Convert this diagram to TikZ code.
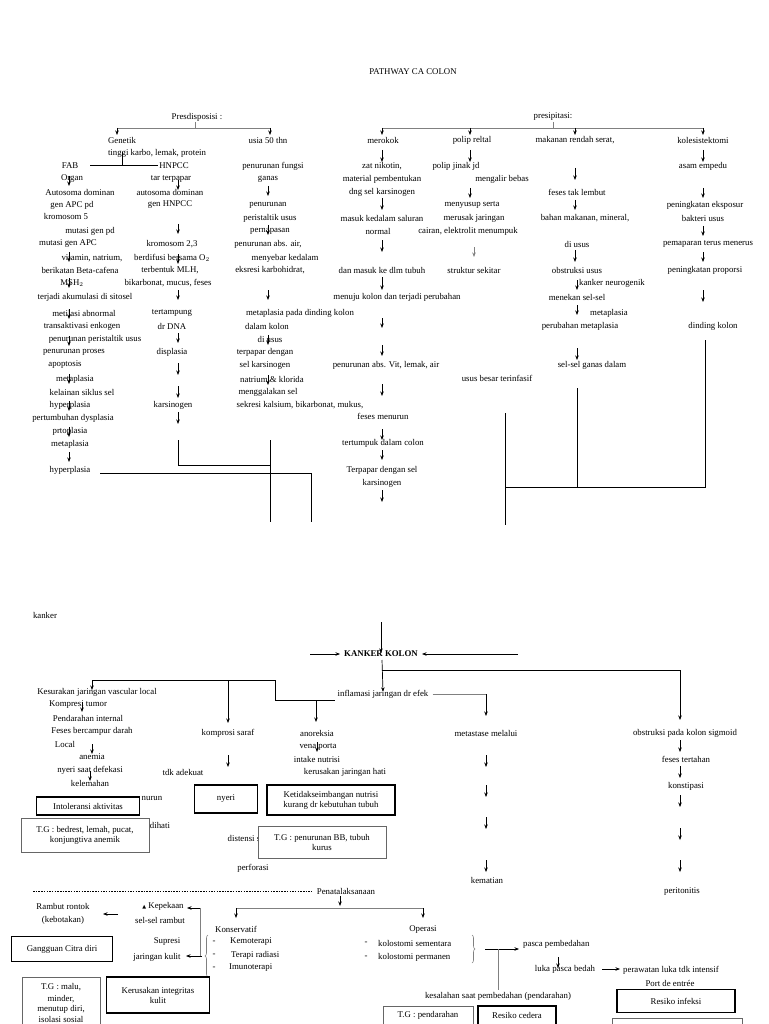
\documentclass[tikz,border=0pt]{standalone}
\usepackage{fontspec}
\setmainfont{Liberation Serif}
\newfontfamily\djv{DejaVu Sans}
\usetikzlibrary{arrows.meta,decorations.pathreplacing}
\tikzset{
  t/.style={inner sep=0pt,font=\fontsize{8.8}{10}\selectfont,align=center},
  a/.style={-{Stealth[length=4.5pt,width=3.5pt]},line width=0.7pt},
  ln/.style={line width=0.6pt},
  gl/.style={line width=0.6pt,draw=gray},
  bx/.style={draw,line width=1.6pt,fill=white},
  tb/.style={draw=gray!80!black,line width=0.8pt,fill=white}
}
\newcommand\T[3]{\node[t] at (#1,#2) {#3};}
\newcommand\dn[3]{\draw[a] (#1,#2)--(#1,#3);}
\begin{document}
\begin{tikzpicture}[x=1pt,y=-1pt]
\useasboundingbox (0,0) rectangle (768,1024);
\node[t] (title) at (413,72) {PATHWAY CA COLON};
% Predisposisi
\node[t] (pre) at (197,117) {Presdisposisi :};
\draw[gl] (195,122)--(195,128); \draw[gl] (117,128)--(270,128);
\dn{117}{128}{135} \dn{270}{128}{135}
\T{122}{140}{Genetik} \T{157}{153}{tinggi karbo, lemak, protein} \T{268}{140}{usia 50 thn}
\draw[ln] (90,165)--(158,165); \draw[ln] (122,152)--(122,165);
\T{70}{166}{FAB} \T{174}{166}{HNPCC}
% left column
\T{72}{179}{Organ} \T{80}{192}{Autosoma dominan} \T{72}{205}{gen APC pd} \T{66}{216}{kromosom 5}
\T{90}{231}{mutasi gen pd} \T{68}{244}{mutasi gen APC} \T{92}{258}{vitamin, natrium,} \T{80}{270}{berikatan Beta-cafena}
\T{72}{283}{MSH$_2$} \T{85}{297}{terjadi akumulasi di sitosel} \T{84}{313}{metilasi abnormal} \T{82}{326}{transaktivasi enkogen}
\T{95}{339}{penurunan peristaltik usus} \T{74}{352}{penurunan proses} \T{65}{365}{apoptosis} \T{75}{379}{metaplasia}
\T{82}{392}{kelainan siklus sel} \T{70}{405}{hyperplasia} \T{73}{418}{pertumbuhan dysplasia} \T{70}{431}{prtoplasia} \T{70}{444}{metaplasia}
\T{70}{470}{hyperplasia}
\dn{69}{176}{186} \dn{69}{252}{262} \dn{69}{278}{288} \dn{69}{309}{319} \dn{69}{336}{346} \dn{69}{374}{384} \dn{69}{401}{411} \dn{69}{427}{437} \dn{69}{452}{462}
% middle column
\T{171}{179}{tar terpapar} \T{170}{192}{autosoma dominan} \T{170}{205}{gen HNPCC} \dn{178}{224}{234}
\T{172}{244}{kromosom 2,3} \T{172}{258}{berdifusi bersama O$_2$} \T{170}{270}{terbentuk MLH,} \T{168}{283}{bikarbonat, mucus, feses}
\dn{178}{180}{190} \dn{178}{254}{264} \dn{178}{290}{300}
\T{172}{313}{tertampung} \T{172}{326}{dr DNA} \dn{178}{333}{343} \T{172}{352}{displasia} \dn{178}{363}{375} \dn{178}{386}{398}
\T{173}{405}{karsinogen} \dn{178}{412}{424}
% third column
\T{273}{166}{penurunan fungsi} \T{268}{179}{ganas} \dn{268}{186}{196} \T{268}{205}{penurunan} \T{270}{218}{peristaltik usus}
\T{270}{231}{pernapasan} \T{268}{244}{penurunan abs. air,} \T{285}{258}{menyebar kedalam} \T{270}{270}{eksresi karbohidrat,}
\dn{268}{225}{235} \dn{268}{290}{300}
\T{300}{313}{metaplasia pada dinding kolon} \T{267}{326}{dalam kolon} \T{270}{339}{di usus} \dn{268}{335}{345}
\T{265}{352}{terpapar dengan} \T{265}{365}{sel karsinogen} \T{272}{379}{natrium \& klorida} \dn{268}{375}{385} \T{268}{392}{menggalakan sel}
\T{300}{405}{sekresi kalsium, bikarbonat, mukus,}
\draw[ln] (178,440)--(178,465)--(270,465); \draw[ln] (270,440)--(270,522);
\draw[ln] (100,473)--(311,473)--(311,522);
% presipitasi
\node[t] (prs) at (553,117) {presipitasi:};
\draw[gl] (553,122)--(553,128); \draw[gl] (382,128)--(703,128);
\dn{382}{128}{135} \dn{470}{128}{135} \dn{575}{128}{135} \dn{703}{128}{135}
\T{383}{140}{merokok} \T{472}{140}{polip reltal} \T{575}{140}{makanan rendah serat,} \T{703}{140}{kolesistektomi}
\dn{382}{150}{162} \T{382}{166}{zat nikotin,} \T{382}{179}{material pembentukan} \T{382}{192}{dng sel karsinogen}
\dn{382}{198}{210} \T{382}{218}{masuk kedalam saluran} \T{378}{231}{normal} \dn{382}{240}{252}
\T{382}{270}{dan masuk ke dlm tubuh} \dn{382}{277}{290} \T{397}{297}{menuju kolon dan terjadi perubahan}
\dn{382}{318}{328} \dn{382}{345}{356} \T{386}{365}{penurunan abs. Vit, lemak, air} \dn{382}{384}{396}
\T{383}{416}{feses menurun} \dn{382}{429}{440} \T{383}{443}{tertumpuk dalam colon} \dn{382}{450}{460}
\T{382}{470}{Terpapar dengan sel} \T{382}{483}{karsinogen} \dn{382}{490}{502}
\dn{470}{150}{162} \T{456}{166}{polip jinak jd} \T{502}{179}{mengalir bebas} \dn{470}{188}{198}
\T{472}{205}{menyusup serta} \T{474}{218}{merusak jaringan} \T{468}{231}{cairan, elektrolit menumpuk}
\draw[a,draw=gray] (474,247)--(474,257); \T{474}{270}{struktur sekitar}
\dn{575}{168}{180} \T{577}{192}{feses tak lembut} \dn{575}{200}{210} \T{585}{218}{bahan makanan, mineral,}
\T{577}{244}{di usus} \dn{575}{250}{262} \T{577}{270}{obstruksi usus} \dn{577}{280}{290} \T{612}{283}{kanker neurogenik}
\T{577}{297}{menekan sel-sel} \dn{577}{305}{315} \T{609}{313}{metaplasia} \T{580}{326}{perubahan metaplasia}
\dn{577}{348}{360} \T{592}{365}{sel-sel ganas dalam} \T{497}{378}{usus besar terinfasif}
\dn{703}{150}{162} \T{703}{166}{asam empedu} \dn{703}{188}{198} \T{705}{205}{peningkatan eksposur} \T{703}{218}{bakteri usus}
\dn{703}{226}{236} \T{708}{244}{pemaparan terus menerus} \dn{703}{252}{262} \T{705}{270}{peningkatan proporsi}
\dn{703}{290}{302} \T{713}{326}{dinding kolon}
\draw[ln] (705,340)--(705,487)--(505,487); \draw[ln] (577,388)--(577,487); \draw[ln] (505,413)--(505,525);
% Kanker kolon
\T{45}{615}{kanker}
\node[t,font=\fontsize{8.8}{10}\selectfont\bfseries] (kk) at (381,654) {KANKER KOLON};
\coordinate (kt) at (381,622); \draw[a] (kt)--([yshift=-2pt]kk.north);
\coordinate (kl) at (310,654); \draw[a] (kl)--([xshift=-4pt]kk.west);
\coordinate (kr) at (518,654); \draw[a] (kr)--([xshift=4pt]kk.east);
\node[t] (inf) at (383,694) {inflamasi jaringan dr efek};
\draw[a] (382,660)--([yshift=-2pt]inf.north); \draw[ln] (382,670)--(680,670); \dn{680}{670}{720}
\draw[gl] ([xshift=4pt]inf.east)--(486,694); \dn{486}{694}{716}
\node[t] (met) at (486,733) {metastase melalui};
\draw[ln] (92,680)--(275,680); \dn{92}{680}{690} \dn{228}{680}{723} \draw[ln] (275,680)--(275,700)--(335,700); \dn{316}{700}{722}
\T{97}{692}{Kesurakan jaringan vascular local} \T{78}{705}{Kompresi tumor} \T{88}{718}{Pendarahan internal}
\T{92}{731}{Feses bercampur darah} \T{65}{744}{Local} \T{92}{757}{anemia} \T{90}{770}{nyeri saat defekasi} \T{90}{783}{kelemahan}
\dn{82}{702}{712} \dn{92}{744}{754} \dn{90}{771}{781}
\T{152}{798}{nurun} \T{160}{825}{dihati}
\node[bx,minimum width=103pt,minimum height=18pt,t] (ia) at (88,806) {Intoleransi aktivitas};
\node[tb,minimum width=128pt,minimum height=34pt,t] (tg1) at (85,835) {T.G : bedrest, lemah, pucat,\\konjungtiva anemik};
\T{228}{733}{komprosi saraf} \dn{228}{755}{767} \T{183}{772}{tdk adekuat}
\node[bx,minimum width=63pt,minimum height=28pt,t] (ny) at (226,799) {nyeri};
\T{317}{733}{anoreksia} \T{318}{747}{vena porta} \dn{317}{742}{752} \T{317}{759}{intake nutrisi} \T{345}{772}{kerusakan jaringan hati}
\node[bx,minimum width=128pt,minimum height=30pt,t] (kn) at (331,800) {Ketidakseimbangan nutrisi\\kurang dr kebutuhan tubuh};
\T{244}{838}{distensi s}
\node[tb,minimum width=128pt,minimum height=32pt,t] (tg2) at (322,842) {T.G : penurunan BB, tubuh\\kurus};
\T{253}{868}{perforasi}
\dn{486}{755}{767} \dn{486}{785}{797} \dn{486}{817}{829} \dn{486}{860}{872} \T{487}{880}{kematian}
\node[t] (obs) at (685,733) {obstruksi pada kolon sigmoid};
\dn{680}{740}{752} \T{686}{759}{feses tertahan} \dn{680}{766}{778} \T{686}{786}{konstipasi}
\dn{680}{795}{807} \dn{680}{828}{840} \dn{680}{860}{872} \T{682}{892}{peritonitis}
% Penatalaksanaan
\draw[ln,dash pattern=on 1.5pt off 1.2pt] (33,891)--(312,891);
\node[t] (pen) at (346,891) {Penatalaksanaan};
\dn{340}{896}{906} \draw[gl] (236,908)--(423,908); \dn{236}{908}{918} \dn{423}{908}{918}
\T{236}{929}{Konservatif}
\T{214}{942}{-} \T{214}{955}{-} \T{214}{968}{-}
\node[t,anchor=west] at (230,942) {Kemoterapi}; \node[t,anchor=west] at (231,955) {Terapi radiasi}; \node[t,anchor=west] at (229,968) {Imunoterapi};
\draw[gl,decorate,decoration={brace,amplitude=3pt}] (208,977)--(208,935);
\T{167}{942}{Supresi} \T{157}{957}{jaringan kulit}
\coordinate (bj) at (202,956); \draw[a] (bj)--(186,956);
\draw[gl] (200,956)--(200,908); \draw[a] (200,908)--(187,908);
\T{163}{906}{{\djv\fontsize{5}{6}\selectfont ▲} Kepekaan} \T{160}{920}{sel-sel rambut}
\draw[a] (118,914)--(103,914);
\T{63}{906}{Rambut rontok} \T{63}{920}{(kebotakan)}
\node[bx,minimum width=101pt,minimum height=25pt,t] (gc) at (62,949) {Gangguan Citra diri};
\draw[tb] (22,1030)--(22,977)--(100,977)--(100,1030);
\T{61}{987}{T.G : malu,} \T{61}{999}{minder,} \T{61}{1009}{menutup diri,} \T{61}{1019}{isolasi sosial}
\node[bx,minimum width=103pt,minimum height=36pt,t] (ki) at (158,995) {Kerusakan integritas\\kulit};
\T{423}{930}{Operasi}
\T{366}{943}{-} \T{366}{957}{-}
\node[t,anchor=west] at (378,943) {kolostomi sementara}; \node[t,anchor=west] at (378,957) {kolostomi permanen};
\draw[gl,decorate,decoration={brace,amplitude=3pt}] (472,935)--(472,963);
\draw[a] (485,949)--(519,949); \node[t,anchor=west] at (523,944) {pasca pembedahan};
\draw[gl] (498,949)--(498,990);
\dn{558}{957}{968} \T{565}{969}{luka pasca bedah}
\draw[a] (602,969)--(620,969); \node[t,anchor=west] at (623,970) {perawatan luka tdk intensif};
\T{670}{983}{Port de entrée}
\T{498}{996}{kesalahan saat pembedahan (pendarahan)}
\node[bx,minimum width=118pt,minimum height=23pt,t] (ri) at (676,1001) {Resiko infeksi};
\draw[tb] (383,1030)--(383,1006)--(473,1006)--(473,1030); \T{428}{1015}{T.G : pendarahan}
\draw[bx] (478,1030)--(478,1006)--(556,1006)--(556,1030); \T{517}{1015}{Resiko cedera}
\draw[tb] (612,1030)--(612,1018)--(742,1018)--(742,1030);
\end{tikzpicture}
\end{document}
